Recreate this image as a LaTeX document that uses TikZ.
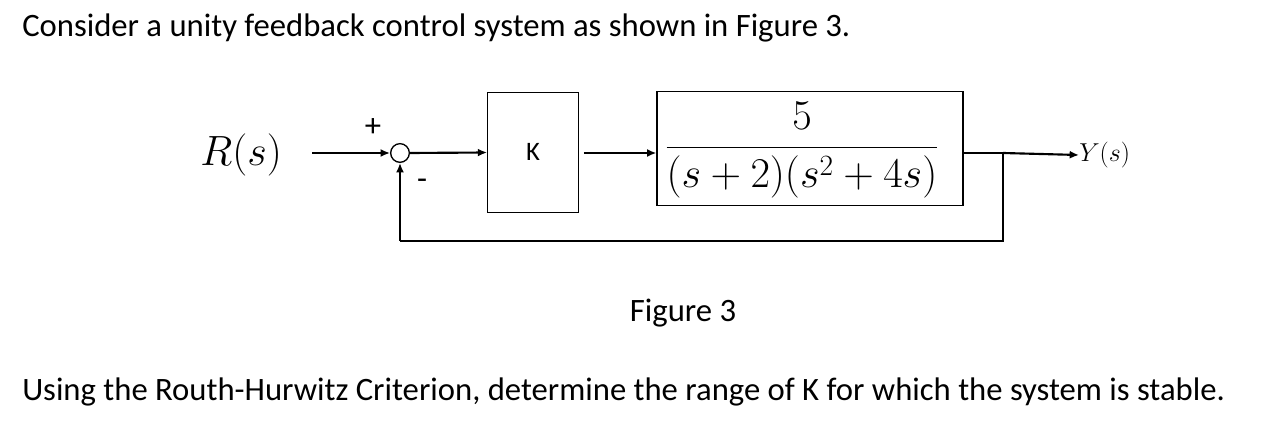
\documentclass[tikz,border=0pt]{standalone}
\usepackage{graphicx}
\usepackage{fontspec}
\setmainfont{Carlito}
\usetikzlibrary{arrows.meta}
\begin{document}
\begin{tikzpicture}[x=0.75pt,y=-0.75pt,
  txt/.style={font=\fontsize{24.5pt}{28pt}\selectfont,inner sep=0pt},
  blk/.style={draw,line width=0.8pt,inner sep=0pt},
  sig/.style={line width=1.6pt,-{Latex[length=7pt,width=6pt]}},
  wire/.style={line width=1.6pt}]
\useasboundingbox (0,0) rectangle (1282,448);
\node[txt,anchor=west] (t1) at (22,28) {Consider a unity feedback control system as shown in Figure 3.};
\node[txt,anchor=east] (R) at (282,155) {\resizebox{61pt}{!}{$R(s)$}};
\node[draw,circle,line width=1pt,minimum size=14pt,inner sep=0pt] (sum) at (400,153) {};
\node[txt] (plus) at (373,128) {+};
\node[txt] (minus) at (422,184) {-};
\node[blk,minimum width=68pt,minimum height=90pt] (K) at (533,152.5) {};
\node[txt,font=\fontsize{20pt}{22pt}\selectfont] (Kl) at (533,152) {K};
\node[blk,minimum width=229.5pt,minimum height=85pt] (G) at (810,148.5) {};
\node[txt] (Gl) at (802,150) {\resizebox{206pt}{!}{$\displaystyle\frac{5}{(s+2)(s^2+4s)}$}};
\node[txt,anchor=west] (Y) at (1079,155) {\resizebox{38pt}{!}{$Y(s)$}};
\coordinate (in) at (312,153);
\coordinate (tap) at (1003,153);
\coordinate (c1) at (1003,241);
\coordinate (c2) at (400,241);
\draw[sig] (in) -- (sum.west);
\draw[sig] (sum.east) -- (K.west);
\draw[sig] (K.east |- 0,153) ++(5,0) -- (G.west |- 0,153);
\draw[wire] (G.east |- 0,153) -- (tap);
\draw[sig] (tap) -- (Y.west);
\draw[wire] (tap) -- (c1) -- (c2);
\draw[sig] (c2) -- (sum.south);
\node[txt] (fig) at (683,313) {Figure 3};
\node[txt,anchor=west] (t2) at (22,392) {Using the Routh-Hurwitz Criterion, determine the range of K for which the system is stable.};
\end{tikzpicture}
\end{document}
